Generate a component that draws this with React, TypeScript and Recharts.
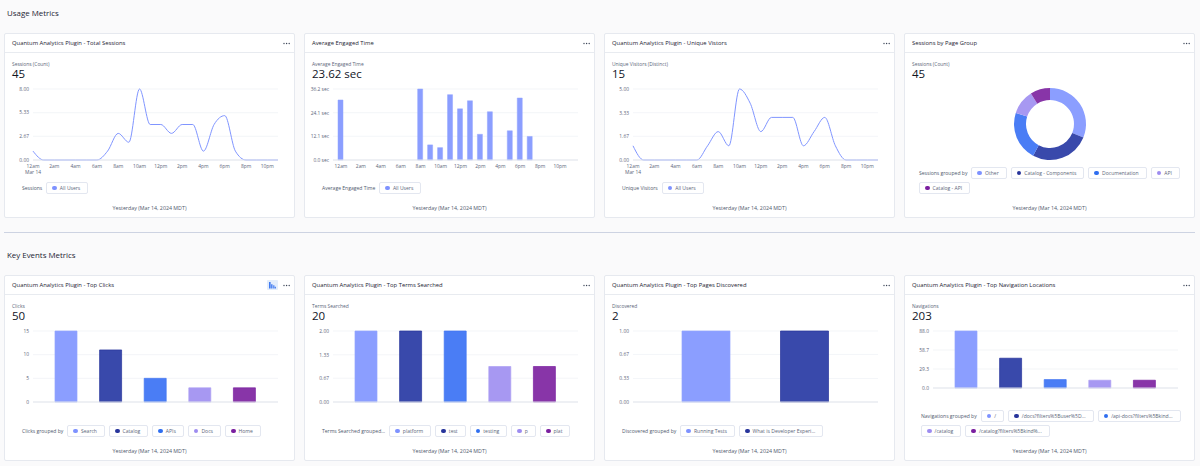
import React from 'react';
import { BarChart, Bar, Cell, LineChart, Line, PieChart, Pie, XAxis, YAxis, CartesianGrid } from 'recharts';

const FONT = '"Open Sans", "Noto Sans", sans-serif';

const palette = ['#8b9eff', '#3949ab', '#4a7df5', '#a798f2', '#8835a8'];
const strokes = ['#93a5ff', '#27349b', '#3f74f2', '#ad9ff4', '#7a1fa0'];
const dots = ['#7e92ff', '#27349b', '#2f6ef0', '#9d8cf0', '#7a1fa0'];

const hours = [
  '12am', '1am', '2am', '3am', '4am', '5am', '6am', '7am', '8am', '9am', '10am', '11am',
  '12pm', '1pm', '2pm', '3pm', '4pm', '5pm', '6pm', '7pm', '8pm', '9pm', '10pm', '11pm',
];

const sessions = [1, 0, 0, 0, 0, 0, 0, 1, 3, 2, 8, 4, 4, 3, 4, 4, 1, 4, 5, 1, 0, 0, 0, 0];
const sessionTicks = [0, 2.67, 5.33, 8];

const engagedTime = [30.6, 0, 0, 0, 0, 0, 0, 0, 36.2, 7.7, 6.3, 33.3, 26.1, 30.2, 13.1, 24.6, 0, 14.9, 31.6, 12, 0, 0, 0, 0];
const engagedTicks = [0, 12.1, 24.1, 36.2];

const visitors = [1, 0, 0, 0, 0, 0, 0, 1, 2, 1, 5, 4, 2, 3, 3, 3, 1, 2, 3, 1, 0, 0, 0, 0];
const visitorTicks = [0, 1.67, 3.33, 5];

const pageGroups = ['Other', 'Catalog - Components', 'Documentation', 'API', 'Catalog - API'];
const pageGroupSessions = [14, 12, 10, 5, 4];

const clickNames = ['Search', 'Catalog', 'APIs', 'Docs', 'Home'];
const clickValues = [15, 11, 5, 3, 3];
const clickTicks = [0, 5, 10, 15];

const termNames = ['platform', 'test', 'testing', 'p', 'plat'];
const termValues = [2, 2, 2, 1, 1];
const termTicks = [0, 0.67, 1.33, 2];

const discoveredNames = ['Running Tests', 'What is Developer Experi...'];
const discoveredValues = [1, 1];
const discoveredTicks = [0, 0.33, 0.67, 1];

const navNames = ['/', '/docs?filters%5Buser%5D...', '/api-docs?filters%5Bkind...', '/catalog', '/catalog?filters%5Bkind%...'];
const navValues = [88, 46, 13, 12, 12];
const navTicks = [0, 29.3, 58.7, 88];

const COLS = [4, 304, 604, 904];
const CARD_W = 291;
const GRID = '#eef0f5';
const AXIS = '#e3e6ec';

function HourTick({ x, y, payload, showDate }: any) {
  return (
    <text x={x} y={y + 6} textAnchor="middle" fontSize={4.9} fill="#5b6579" fontFamily={FONT}>
      <tspan x={x}>{payload.value}</tspan>
      {showDate && payload.index === 0 && <tspan x={x} dy={6}>Mar 14</tspan>}
    </text>
  );
}

function ValueTick({ x, y, payload, digits, suffix = '' }: any) {
  return (
    <text x={x} y={y + 1.8} textAnchor="end" fontSize={4.9} fill="#5b6579" fontFamily={FONT}>
      {payload.value.toFixed(digits) + suffix}
    </text>
  );
}

function ChartLine({ data, ticks, digits, name }: any) {
  const rows = hours.map((hour, i) => ({ hour, value: data[i] }));
  return (
    <LineChart width={CARD_W} height={100} data={rows} margin={{ top: 4, right: 18, bottom: 0, left: 0 }}>
      <CartesianGrid vertical={false} stroke={GRID} strokeWidth={0.7} />
      <XAxis dataKey="hour" interval={1} stroke={AXIS} tickLine={false} tickSize={0} tickMargin={2} height={25} tick={<HourTick showDate />} />
      <YAxis width={28} domain={[0, ticks[3]]} ticks={ticks} interval={0} axisLine={false} tickLine={false} tickSize={0} tickMargin={4} tick={<ValueTick digits={digits} />} />
      <Line dataKey="value" name={name} type="monotone" stroke="#8095ff" strokeWidth={1} dot={false} isAnimationActive={false} />
    </LineChart>
  );
}

function EngagedBars() {
  const rows = hours.map((hour, i) => ({ hour, value: engagedTime[i] }));
  return (
    <BarChart width={CARD_W} height={100} data={rows} margin={{ top: 4, right: 18, bottom: 0, left: 0 }}>
      <CartesianGrid vertical={false} stroke={GRID} strokeWidth={0.7} />
      <XAxis dataKey="hour" interval={1} stroke={AXIS} tickLine={false} tickSize={0} tickMargin={2} height={25} padding={{ left: 3, right: 3 }} tick={<HourTick />} />
      <YAxis width={28} domain={[0, 36.2]} ticks={engagedTicks} interval={0} axisLine={false} tickLine={false} tickSize={0} tickMargin={4} tick={<ValueTick digits={1} suffix=" sec" />} />
      <Bar dataKey="value" barSize={5} fill={palette[0]} stroke={strokes[0]} strokeWidth={0.5} isAnimationActive={false} />
    </BarChart>
  );
}

function GroupBars({ names, values, ticks, digits, barSize, pad, plot = 71 }: any) {
  const rows = names.map((name: string, i: number) => ({ name, value: values[i] }));
  return (
    <BarChart width={CARD_W} height={plot + 10} data={rows} margin={{ top: 4, right: 18, bottom: 0, left: 0 }}>
      <CartesianGrid vertical={false} stroke={GRID} strokeWidth={0.7} />
      <XAxis dataKey="name" interval={0} stroke={AXIS} tickLine={false} tick={false} height={6} padding={{ left: pad, right: pad }} />
      <YAxis width={28} domain={[0, ticks[3]]} ticks={ticks} interval={0} axisLine={false} tickLine={false} tickSize={0} tickMargin={4} tick={<ValueTick digits={digits} />} />
      <Bar dataKey="value" barSize={barSize} strokeWidth={0.7} isAnimationActive={false}>
        {rows.map((r: any, i: number) => (
          <Cell key={r.name} fill={palette[i]} stroke={strokes[i]} />
        ))}
      </Bar>
    </BarChart>
  );
}

function Donut() {
  const rows = pageGroups.map((name, i) => ({ name, value: pageGroupSessions[i] }));
  return (
    <PieChart width={CARD_W} height={90} margin={{ top: 0, right: 0, bottom: 0, left: 0 }}>
      <Pie data={rows} dataKey="value" cx={145} cy={41} innerRadius={24} outerRadius={36} startAngle={90} endAngle={-270} stroke="none" isAnimationActive={false}>
        {rows.map((r, i) => (
          <Cell key={r.name} fill={palette[i]} />
        ))}
      </Pie>
    </PieChart>
  );
}

function Chips({ label, names, left }: any) {
  return (
    <div style={{ position: 'absolute', left, right: 4, bottom: 23, display: 'flex', flexWrap: 'wrap', alignItems: 'center', columnGap: 4, rowGap: 3, fontSize: 5.05, color: '#4f596d' }}>
      <span>{label}</span>
      {names.map((name: string, i: number) => (
        <span key={name} style={{ display: 'flex', alignItems: 'center', height: 10, padding: '0 7px 0 5px', background: '#fff', border: '0.7px solid #e3e7f0', borderRadius: 2, color: '#5b6579' }}>
          <i style={{ width: 4.6, height: 4.6, borderRadius: '50%', background: dots[i], marginRight: 3 }} />
          {name}
        </span>
      ))}
    </div>
  );
}

function MenuDots() {
  return (
    <svg width="8" height="3" style={{ position: 'absolute', left: 278, top: 7.5, display: 'block' }}>
      <circle cx="1" cy="1.5" r="0.7" fill="#3c4558" />
      <circle cx="3.6" cy="1.5" r="0.7" fill="#3c4558" />
      <circle cx="6.2" cy="1.5" r="0.7" fill="#3c4558" />
    </svg>
  );
}

function Card({ col, top, height, title, metric, value, children, chartTop, legend, tools }: any) {
  return (
    <div style={{ position: 'absolute', left: COLS[col], top, width: CARD_W, height, boxSizing: 'border-box', background: '#fff', border: '0.7px solid #e6e9ef', borderRadius: 2 }}>
      <div style={{ height: 18, lineHeight: '18px', paddingLeft: 7, fontSize: 5.85, fontWeight: 500, color: '#1c2333', borderBottom: '0.7px solid #e8ebf0' }}>{title}</div>
      {tools && (
        <svg width="10.5" height="10.5" viewBox="0 0 10 10" style={{ position: 'absolute', left: 262, top: 3.5, display: 'block', background: '#e3edfb', borderRadius: 1 }}>
          <path d="M2 2h1.4v6H2zM4 4h1.2v4H4zM6 5h1v3H6zM7.4 6.5h1V8h-1z" fill="#2f6ef0" />
        </svg>
      )}
      <MenuDots />
      <div style={{ position: 'absolute', left: 7, top: 27, fontSize: 4.9, color: '#5b6579' }}>{metric}</div>
      <div style={{ position: 'absolute', left: 7, top: 32, fontSize: 11.5, fontWeight: 500, color: '#10141f' }}>{value}</div>
      <div style={{ position: 'absolute', left: 0, top: chartTop }}>{children}</div>
      {legend}
      <div style={{ position: 'absolute', left: 0, right: 0, bottom: 5, textAlign: 'center', fontSize: 5.3, fontWeight: 500, color: '#4f596d' }}>Yesterday (Mar 14, 2024 MDT)</div>
    </div>
  );
}

export default function App() {
  const top1 = 33;
  const top2 = 275;
  return (
    <div style={{ position: 'absolute', left: 0, top: 0, width: 1200, height: 466, overflow: 'hidden', background: '#fafafb', fontFamily: FONT }}>
      <div style={{ position: 'absolute', left: 7, top: 8, fontSize: 7.9, fontWeight: 500, color: '#1c2333' }}>Usage Metrics</div>
      <div style={{ position: 'absolute', left: 7, top: 250, fontSize: 7.9, fontWeight: 500, color: '#1c2333' }}>Key Events Metrics</div>
      <div style={{ position: 'absolute', left: 4, top: 232, width: 1191, height: 1, background: '#cdd3e2' }} />

      <Card col={0} top={top1} height={185} title="Quantum Analytics Plugin - Total Sessions" metric="Sessions (Count)" value="45" chartTop={51}
        legend={<Chips label="Sessions" names={['All Users']} left={17} />}>
        <ChartLine data={sessions} ticks={sessionTicks} digits={2} name="Sessions" />
      </Card>
      <Card col={1} top={top1} height={185} title="Average Engaged Time" metric="Average Engaged Time" value="23.62 sec" chartTop={51}
        legend={<Chips label="Average Engaged Time" names={['All Users']} left={17} />}>
        <EngagedBars />
      </Card>
      <Card col={2} top={top1} height={185} title="Quantum Analytics Plugin - Unique Vistors" metric="Unique Visitors (Distinct)" value="15" chartTop={51}
        legend={<Chips label="Unique Visitors" names={['All Users']} left={17} />}>
        <ChartLine data={visitors} ticks={visitorTicks} digits={2} name="Unique Visitors" />
      </Card>
      <Card col={3} top={top1} height={185} title="Sessions by Page Group" metric="Sessions (Count)" value="45" chartTop={49}
        legend={<Chips label="Sessions grouped by" names={pageGroups} left={14} />}>
        <Donut />
      </Card>

      <Card col={0} top={top2} height={186} title="Quantum Analytics Plugin - Top Clicks" metric="Clicks" value="50" chartTop={51} tools
        legend={<Chips label="Clicks grouped by" names={clickNames} left={17} />}>
        <GroupBars names={clickNames} values={clickValues} ticks={clickTicks} digits={0} barSize={22} pad={11} />
      </Card>
      <Card col={1} top={top2} height={186} title="Quantum Analytics Plugin - Top Terms Searched" metric="Terms Searched" value="20" chartTop={51}
        legend={<Chips label="Terms Searched grouped..." names={termNames} left={17} />}>
        <GroupBars names={termNames} values={termValues} ticks={termTicks} digits={2} barSize={22} pad={11} />
      </Card>
      <Card col={2} top={top2} height={186} title="Quantum Analytics Plugin - Top Pages Discovered" metric="Discovered" value="2" chartTop={51}
        legend={<Chips label="Discovered grouped by" names={discoveredNames} left={17} />}>
        <GroupBars names={discoveredNames} values={discoveredValues} ticks={discoveredTicks} digits={2} barSize={48} pad={24} />
      </Card>
      <Card col={3} top={top2} height={186} title="Quantum Analytics Plugin - Top Navigation Locations" metric="Navigations" value="203" chartTop={51}
        legend={<Chips label="Navigations grouped by" names={navNames} left={16} />}>
        <GroupBars names={navNames} values={navValues} ticks={navTicks} digits={1} barSize={22} pad={11} plot={57} />
      </Card>
    </div>
  );
}
